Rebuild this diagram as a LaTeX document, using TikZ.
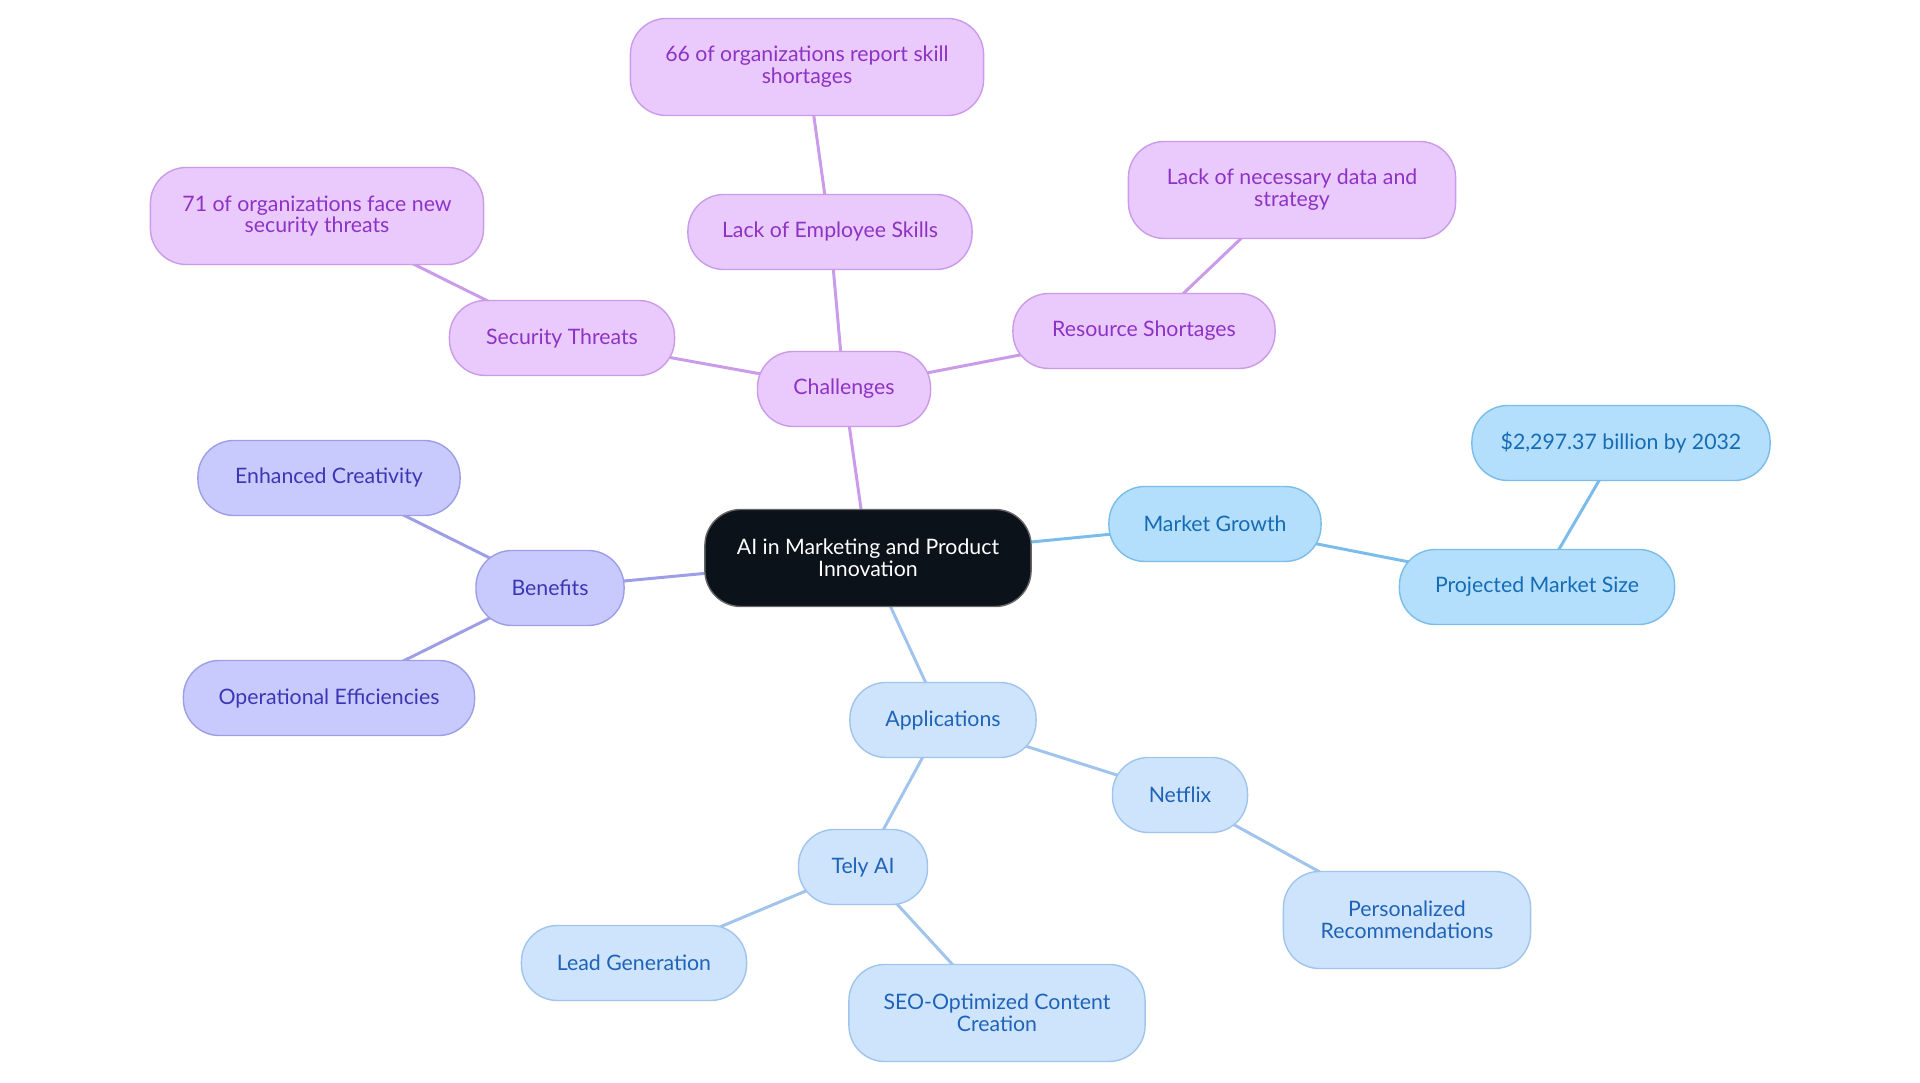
\documentclass[tikz,border=0pt]{standalone}
\usepackage{fontspec}
\setmainfont{Lato}
\usepackage{xcolor}
\usetikzlibrary{backgrounds}

\definecolor{rootfill}{HTML}{0B121A}
\definecolor{chalfill}{HTML}{EAC9FD}
\definecolor{chaldraw}{HTML}{C99BE8}
\definecolor{chaltext}{HTML}{8D33C4}
\definecolor{benefill}{HTML}{C8CAFD}
\definecolor{benedraw}{HTML}{9C9EE6}
\definecolor{benetext}{HTML}{3A36B4}
\definecolor{mrktfill}{HTML}{B3DEFC}
\definecolor{mrktdraw}{HTML}{7BBDEA}
\definecolor{mrkttext}{HTML}{156CB4}
\definecolor{applfill}{HTML}{CEE4FC}
\definecolor{appldraw}{HTML}{A0C4EC}
\definecolor{appltext}{HTML}{1E63B8}

\begin{document}
\begin{tikzpicture}[
        x=0.01cm, y=-0.01cm,
        box/.style={rectangle, rounded corners=0.36cm, line width=0.4pt, align=center,
            minimum height=0.75cm, inner sep=0pt, font=\fontsize{6.05pt}{6.2pt}\selectfont},
        tall/.style={minimum height=0.97cm},
        root/.style={box, fill=rootfill, draw=black!60, text=white},
        chal/.style={box, fill=chalfill, draw=chaldraw, text=chaltext},
        bene/.style={box, fill=benefill, draw=benedraw, text=benetext},
        mrkt/.style={box, fill=mrktfill, draw=mrktdraw, text=mrkttext},
        appl/.style={box, fill=applfill, draw=appldraw, text=appltext},
        link/.style={line width=0.85pt}
    ]
        \useasboundingbox (0,0) rectangle (1920,1083);
        % centre
        \node[root, tall, minimum width=3.26cm] (AI) at (868,558) {AI in Marketing and Product\\Innovation};
        % challenges
        \node[chal, minimum width=1.73cm] (Ch) at (844,389) {Challenges};
        \node[chal, minimum width=2.84cm] (ChSk) at (830,232) {Lack of Employee Skills};
        \node[chal, tall, minimum width=3.53cm] (ChSkD) at (807,67) {66 of organizations report skill\\shortages};
        \node[chal, minimum width=2.25cm] (ChSe) at (562,338) {Security Threats};
        \node[chal, tall, minimum width=3.33cm] (ChSeD) at (317,216) {71 of organizations face new\\security threats};
        \node[chal, minimum width=2.62cm] (ChRe) at (1144,331) {Resource Shortages};
        \node[chal, tall, minimum width=3.27cm] (ChReD) at (1292,190) {Lack of necessary data and\\strategy};
        % market growth
        \node[mrkt, minimum width=2.12cm] (Mg) at (1215,524) {Market Growth};
        \node[mrkt, minimum width=2.75cm] (MgSz) at (1537,587) {Projected Market Size};
        \node[mrkt, minimum width=2.98cm] (MgSzD) at (1621,443) {\$2,297.37 billion by 2032};
        % benefits
        \node[bene, minimum width=1.48cm] (Be) at (550,588) {Benefits};
        \node[bene, minimum width=2.62cm] (BeCr) at (329,478) {Enhanced Creativity};
        \node[bene, minimum width=2.91cm] (BeOp) at (329,698) {Operational Efficiencies};
        % applications
        \node[appl, minimum width=1.86cm] (Ap) at (943,720) {Applications};
        \node[appl, minimum width=1.35cm] (ApNf) at (1180,795) {Netflix};
        \node[appl, tall, minimum width=2.47cm] (ApNfD) at (1407,920) {Personalized\\Recommendations};
        \node[appl, minimum width=1.29cm] (ApTe) at (863,867) {Tely AI};
        \node[appl, minimum width=2.25cm] (ApTeL) at (634,963) {Lead Generation};
        \node[appl, tall, minimum width=2.96cm] (ApTeS) at (997,1013) {SEO-Optimized Content\\Creation};
        \begin{scope}[on background layer]
            \draw[link, chaldraw] (AI.center) -- (Ch.center);
            \draw[link, chaldraw] (Ch.center) -- (ChSk.center);
            \draw[link, chaldraw] (ChSk.center) -- (ChSkD.center);
            \draw[link, chaldraw] (Ch.center) -- (ChSe.center);
            \draw[link, chaldraw] (ChSe.center) -- (ChSeD.center);
            \draw[link, chaldraw] (Ch.center) -- (ChRe.center);
            \draw[link, chaldraw] (ChRe.center) -- (ChReD.center);
            \draw[link, mrktdraw] (AI.center) -- (Mg.center);
            \draw[link, mrktdraw] (Mg.center) -- (MgSz.center);
            \draw[link, mrktdraw] (MgSz.center) -- (MgSzD.center);
            \draw[link, benedraw] (AI.center) -- (Be.center);
            \draw[link, benedraw] (Be.center) -- (BeCr.center);
            \draw[link, benedraw] (Be.center) -- (BeOp.center);
            \draw[link, appldraw] (AI.center) -- (Ap.center);
            \draw[link, appldraw] (Ap.center) -- (ApNf.center);
            \draw[link, appldraw] (ApNf.center) -- (ApNfD.center);
            \draw[link, appldraw] (Ap.center) -- (ApTe.center);
            \draw[link, appldraw] (ApTe.center) -- (ApTeL.center);
            \draw[link, appldraw] (ApTe.center) -- (ApTeS.center);
        \end{scope}
    \end{tikzpicture}
\end{document}
